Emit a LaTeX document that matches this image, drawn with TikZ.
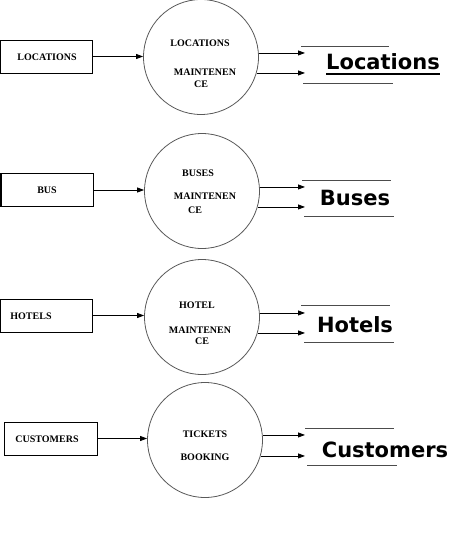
\documentclass[tikz,border=0pt]{standalone}
\usepackage{fontspec}
\setmainfont{Liberation Serif}
\newfontfamily\comic{DejaVu Sans}
\usetikzlibrary{arrows.meta}
\begin{document}
\begin{tikzpicture}[x=1pt,y=-1pt,
  ent/.style={draw, line width=0.8pt, minimum height=33pt, inner sep=0pt},
  etext/.style={font=\bfseries\fontsize{10}{11}\selectfont, inner sep=0pt},
  proc/.style={draw=black!65, circle, minimum size=115pt, inner sep=0pt, line width=0.8pt},
  ptext/.style={font=\bfseries\fontsize{10}{11}\selectfont, inner sep=0pt},
  flow/.style={-{Triangle[length=7pt,width=5pt]}, line width=0.8pt},
  store/.style={draw=black!70, line width=1pt},
  slabel/.style={font=\comic\bfseries\fontsize{21}{24}\selectfont, inner sep=0pt}]
\useasboundingbox (0,0) rectangle (474,533);

% ---------- row 1 ----------
\node[ent, minimum width=92pt] (e1) at (46,56.5) {};
\node[etext] (e1t) at (47,57) {LOCATIONS};
\node[proc] (p1) at (201,57) {};
\node[ptext] (p1a) at (200,43) {LOCATIONS};
\node[ptext] (p1b) at (205,72) {MAINTENEN};
\node[ptext] (p1c) at (201,84) {CE};
\draw[flow] (e1.east) -- (e1.east -| p1.west);
\coordinate (s1a) at (301,46); \coordinate (s1b) at (389,46);
\coordinate (s1c) at (303,83); \coordinate (s1d) at (393,83);
\draw[store] (s1a) -- (s1b); \draw[store] (s1c) -- (s1d);
\coordinate (a1) at (305,53); \coordinate (b1) at (305,73);
\draw[flow] (p1.4) -- (p1.4 -| a1);
\draw[flow] (p1.-16) -- (p1.-16 -| b1);
\node[slabel, anchor=base] (l1) at (383,69) {Locations};
\draw[line width=1.3pt] (l1.base west) ++(0,5) coordinate (u1a) -- (l1.base east |- u1a);

% ---------- row 2 ----------
\node[ent, minimum width=92pt] (e2) at (47,190) {};
\draw[line width=2pt] (e2.north west) -- (e2.south west);
\node[etext] (e2t) at (47,190) {BUS};
\node[proc] (p2) at (202,191) {};
\node[ptext] (p2a) at (198,173) {BUSES};
\node[ptext] (p2b) at (205,196) {MAINTENEN};
\node[ptext] (p2c) at (195,210) {CE};
\draw[flow] (e2.east) -- (e2.east -| p2.west);
\coordinate (s2a) at (302,180); \coordinate (s2b) at (391,180);
\coordinate (s2c) at (304,216); \coordinate (s2d) at (394,216);
\draw[store] (s2a) -- (s2b); \draw[store] (s2c) -- (s2d);
\coordinate (a2) at (305,187); \coordinate (b2) at (305,207);
\draw[flow] (p2.4) -- (p2.4 -| a2);
\draw[flow] (p2.-16) -- (p2.-16 -| b2);
\node[slabel] (l2) at (355,198) {Buses};

% ---------- row 3 ----------
\node[ent, minimum width=92pt] (e3) at (46,315.5) {};
\node[etext] (e3t) at (31,316) {HOTELS};
\node[proc] (p3) at (202,317) {};
\node[ptext] (p3a) at (197,305) {HOTEL};
\node[ptext] (p3b) at (200,330) {MAINTENEN};
\node[ptext] (p3c) at (202,341) {CE};
\draw[flow] (e3.east) -- (e3.east -| p3.west);
\coordinate (s3a) at (301,305); \coordinate (s3b) at (390,305);
\coordinate (s3c) at (304,342); \coordinate (s3d) at (394,342);
\draw[store] (s3a) -- (s3b); \draw[store] (s3c) -- (s3d);
\coordinate (a3) at (305,313); \coordinate (b3) at (305,333);
\draw[flow] (p3.4) -- (p3.4 -| a3);
\draw[flow] (p3.-16) -- (p3.-16 -| b3);
\node[slabel] (l3) at (355,325) {Hotels};

% ---------- row 4 ----------
\node[ent, minimum width=93pt] (e4) at (50.5,438.5) {};
\node[etext] (e4t) at (47,439) {CUSTOMERS};
\node[proc] (p4) at (205,440) {};
\node[ptext] (p4a) at (205,434) {TICKETS};
\node[ptext] (p4b) at (205,457) {BOOKING};
\draw[flow] (e4.east) -- (e4.east -| p4.west);
\coordinate (s4a) at (305,428); \coordinate (s4b) at (394,428);
\coordinate (s4c) at (307,465); \coordinate (s4d) at (397,465);
\draw[store] (s4a) -- (s4b); \draw[store] (s4c) -- (s4d);
\coordinate (a4) at (305,435); \coordinate (b4) at (305,456);
\draw[flow] (p4.5) -- (p4.5 -| a4);
\draw[flow] (p4.-16) -- (p4.-16 -| b4);
\node[slabel] (l4) at (385,450) {Customers};
\end{tikzpicture}
\end{document}
